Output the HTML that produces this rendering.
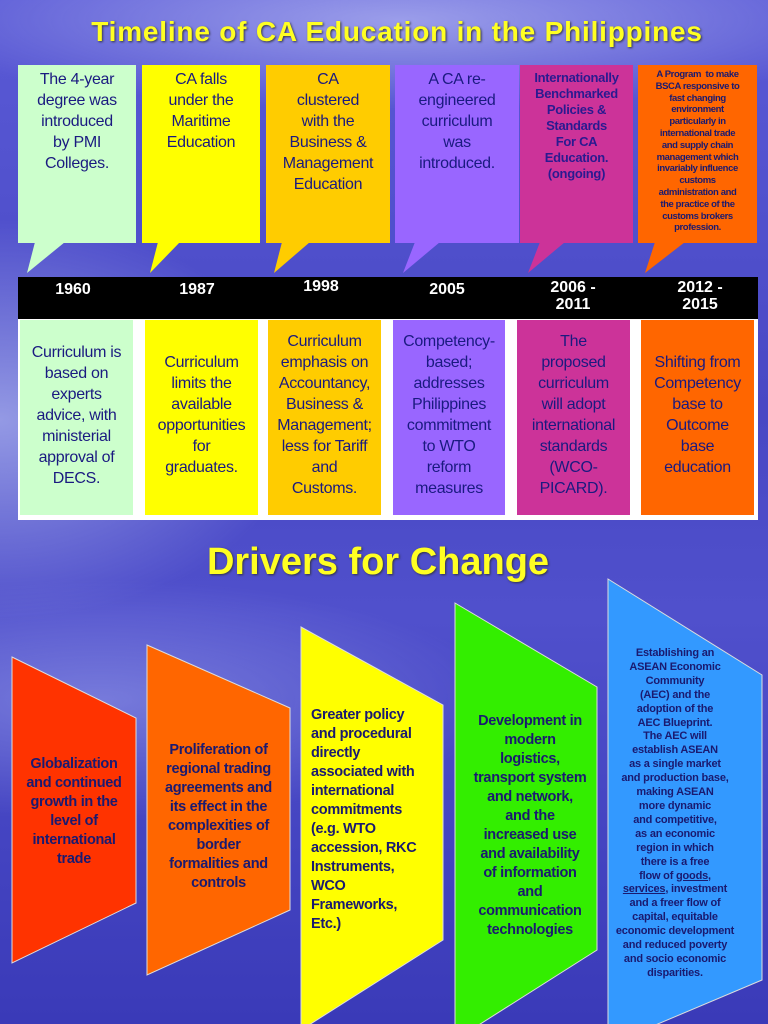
<!DOCTYPE html>
<html><head><meta charset="utf-8"><style>
*{margin:0;padding:0;box-sizing:border-box}
body{width:768px;height:1024px;overflow:hidden;position:relative;font-family:"Liberation Sans",sans-serif;
background:radial-gradient(ellipse 300px 200px at 0px 420px,rgba(210,220,255,.55),rgba(210,220,255,0)),
radial-gradient(ellipse 500px 90px at 400px 20px,rgba(220,225,255,.5),rgba(220,225,255,0)),
radial-gradient(ellipse 400px 120px at 100px 700px,rgba(200,210,255,.35),rgba(200,210,255,0)),
linear-gradient(#5a5ad6,#4848c4 40%,#5050cc 60%,#3a3ab8);}
.abs{position:absolute}
.title{font-weight:bold;color:#ffff22;text-align:center;text-shadow:1px 1px 2px #334;white-space:nowrap}
.box{position:absolute;text-align:center;color:#1a1a80;font-size:16px;line-height:21px;padding-top:4px;white-space:nowrap;letter-spacing:-0.3px}
.yr{position:absolute;color:#fff;font-weight:bold;font-size:16px;line-height:17px;text-align:center}
.dt{position:absolute;text-align:center;color:#1a1a70;font-weight:bold;font-size:14.5px;line-height:19px;white-space:nowrap;letter-spacing:-0.3px}
</style></head><body>
<div class="abs title" style="left:0;top:16px;width:794px;font-size:28px;letter-spacing:0.8px">Timeline of CA Education in the Philippines</div>

<svg class="abs" style="left:0;top:0" width="768" height="1024">
<g>
<polygon points="35,242 65,242 27,273" fill="#ccffcc"/>
<polygon points="158,242 180,242 150,273" fill="#ffff00"/>
<polygon points="282,242 310,242 274,273" fill="#ffcc00"/>
<polygon points="415,242 440,242 403,273" fill="#9966ff"/>
<polygon points="540,242 565,242 528,273" fill="#cc3399"/>
<polygon points="655,242 685,242 645,273" fill="#ff6600"/>
</g>
<rect x="18" y="318" width="740" height="202" fill="#fff"/>
<rect x="18" y="277" width="740" height="42" fill="#000"/>
<polygon points="12,657 136,718 136,903 12,963" fill="#ff3300" stroke="#ddd"/>
<polygon points="147,645 290,708 290,910 147,975" fill="#ff6600" stroke="#ddd"/>
<polygon points="301,627 443,705 443,940 301,1030" fill="#ffff00" stroke="#ddd"/>
<polygon points="455,603 597,687 597,950 455,1040" fill="#33ee00" stroke="#ddd"/>
<polygon points="608,579 762,675 762,980 608,1045" fill="#3399ff" stroke="#ddd"/>
</svg>

<div class="box" style="left:18px;top:65px;width:118px;height:178px;background:#ccffcc">The 4-year<br>degree was<br>introduced<br>by PMI<br>Colleges.</div>
<div class="box" style="left:142px;top:65px;width:118px;height:178px;background:#ffff00">CA falls<br>under the<br>Maritime<br>Education</div>
<div class="box" style="left:266px;top:65px;width:124px;height:178px;background:#ffcc00">CA<br>clustered<br>with the<br>Business &amp;<br>Management<br>Education</div>
<div class="box" style="left:395px;top:65px;width:124px;height:178px;background:#9966ff">A CA re-<br>engineered<br>curriculum<br>was<br>introduced.</div>
<div class="box" style="left:520px;top:65px;width:113px;height:178px;background:#cc3399;font-weight:bold;font-size:13px;line-height:16px;padding-top:5px;color:#2a1a90">Internationally<br>Benchmarked<br>Policies &amp;<br>Standards<br>For CA<br>Education.<br>(ongoing)</div>
<div class="box" style="left:638px;top:65px;width:119px;height:178px;background:#ff6600;font-weight:bold;font-size:9.5px;line-height:11.8px;padding:4px 0 0;color:#1a1a70;letter-spacing:-0.4px">A Program &nbsp;to make<br>BSCA responsive to<br>fast changing<br>environment<br>particularly in<br>international trade<br>and supply chain<br>management which<br>invariably influence<br>customs<br>administration and<br>the practice of the<br>customs brokers<br>profession.</div>

<div class="yr" style="left:18px;top:281px;width:110px">1960</div>
<div class="yr" style="left:142px;top:281px;width:110px">1987</div>
<div class="yr" style="left:266px;top:278px;width:110px">1998</div>
<div class="yr" style="left:392px;top:281px;width:110px">2005</div>
<div class="yr" style="left:518px;top:279px;width:110px">2006 -<br>2011</div>
<div class="yr" style="left:645px;top:279px;width:110px">2012 -<br>2015</div>

<div class="box" style="left:20px;top:320px;width:113px;height:195px;background:#ccffcc;padding-top:22px">Curriculum is<br>based on<br>experts<br>advice, with<br>ministerial<br>approval of<br>DECS.</div>
<div class="box" style="left:145px;top:320px;width:113px;height:195px;background:#ffff00;padding-top:32px">Curriculum<br>limits the<br>available<br>opportunities<br>for<br>graduates.</div>
<div class="box" style="left:268px;top:320px;width:113px;height:195px;background:#ffcc00;padding-top:11px">Curriculum<br>emphasis on<br>Accountancy,<br>Business &amp;<br>Management;<br>less for Tariff<br>and<br>Customs.</div>
<div class="box" style="left:393px;top:320px;width:112px;height:195px;background:#9966ff;padding-top:11px">Competency-<br>based;<br>addresses<br>Philippines<br>commitment<br>to WTO<br>reform<br>measures</div>
<div class="box" style="left:517px;top:320px;width:113px;height:195px;background:#cc3399;padding-top:11px">The<br>proposed<br>curriculum<br>will adopt<br>international<br>standards<br>(WCO-<br>PICARD).</div>
<div class="box" style="left:641px;top:320px;width:113px;height:195px;background:#ff6600;padding-top:32px">Shifting from<br>Competency<br>base to<br>Outcome<br>base<br>education</div>

<div class="abs title" style="left:0;top:541px;width:756px;font-size:38px">Drivers for Change</div>

<div class="dt" style="left:12px;top:755px;width:124px">Globalization<br>and continued<br>growth in the<br>level of<br>international<br>trade</div>
<div class="dt" style="left:147px;top:741px;width:143px">Proliferation of<br>regional trading<br>agreements and<br>its effect in the<br>complexities of<br>border<br>formalities and<br>controls</div>
<div class="dt" style="left:311px;top:706px;width:132px;text-align:left">Greater policy<br>and procedural<br>directly<br>associated with<br>international<br>commitments<br>(e.g. WTO<br>accession, RKC<br>Instruments,<br>WCO<br>Frameworks,<br>Etc.)</div>
<div class="dt" style="left:457px;top:712px;width:146px">Development in<br>modern<br>logistics,<br>transport system<br>and network,<br>and the<br>increased use<br>and availability<br>of information<br>and<br>communication<br>technologies</div>
<div class="dt" style="left:608px;top:647px;width:134px;font-size:11px;line-height:13.9px;letter-spacing:-0.2px">Establishing an<br>ASEAN Economic<br>Community<br>(AEC) and the<br>adoption of the<br>AEC Blueprint.<br>The AEC will<br>establish ASEAN<br>as a single market<br>and production base,<br>making ASEAN<br>more dynamic<br>and competitive,<br>as an economic<br>region in which<br>there is a free<br>flow of <u>goods</u>,<br><u>services</u>, investment<br>and a freer flow of<br>capital, equitable<br>economic development<br>and reduced poverty<br>and socio economic<br>disparities.</div>
</body></html>
